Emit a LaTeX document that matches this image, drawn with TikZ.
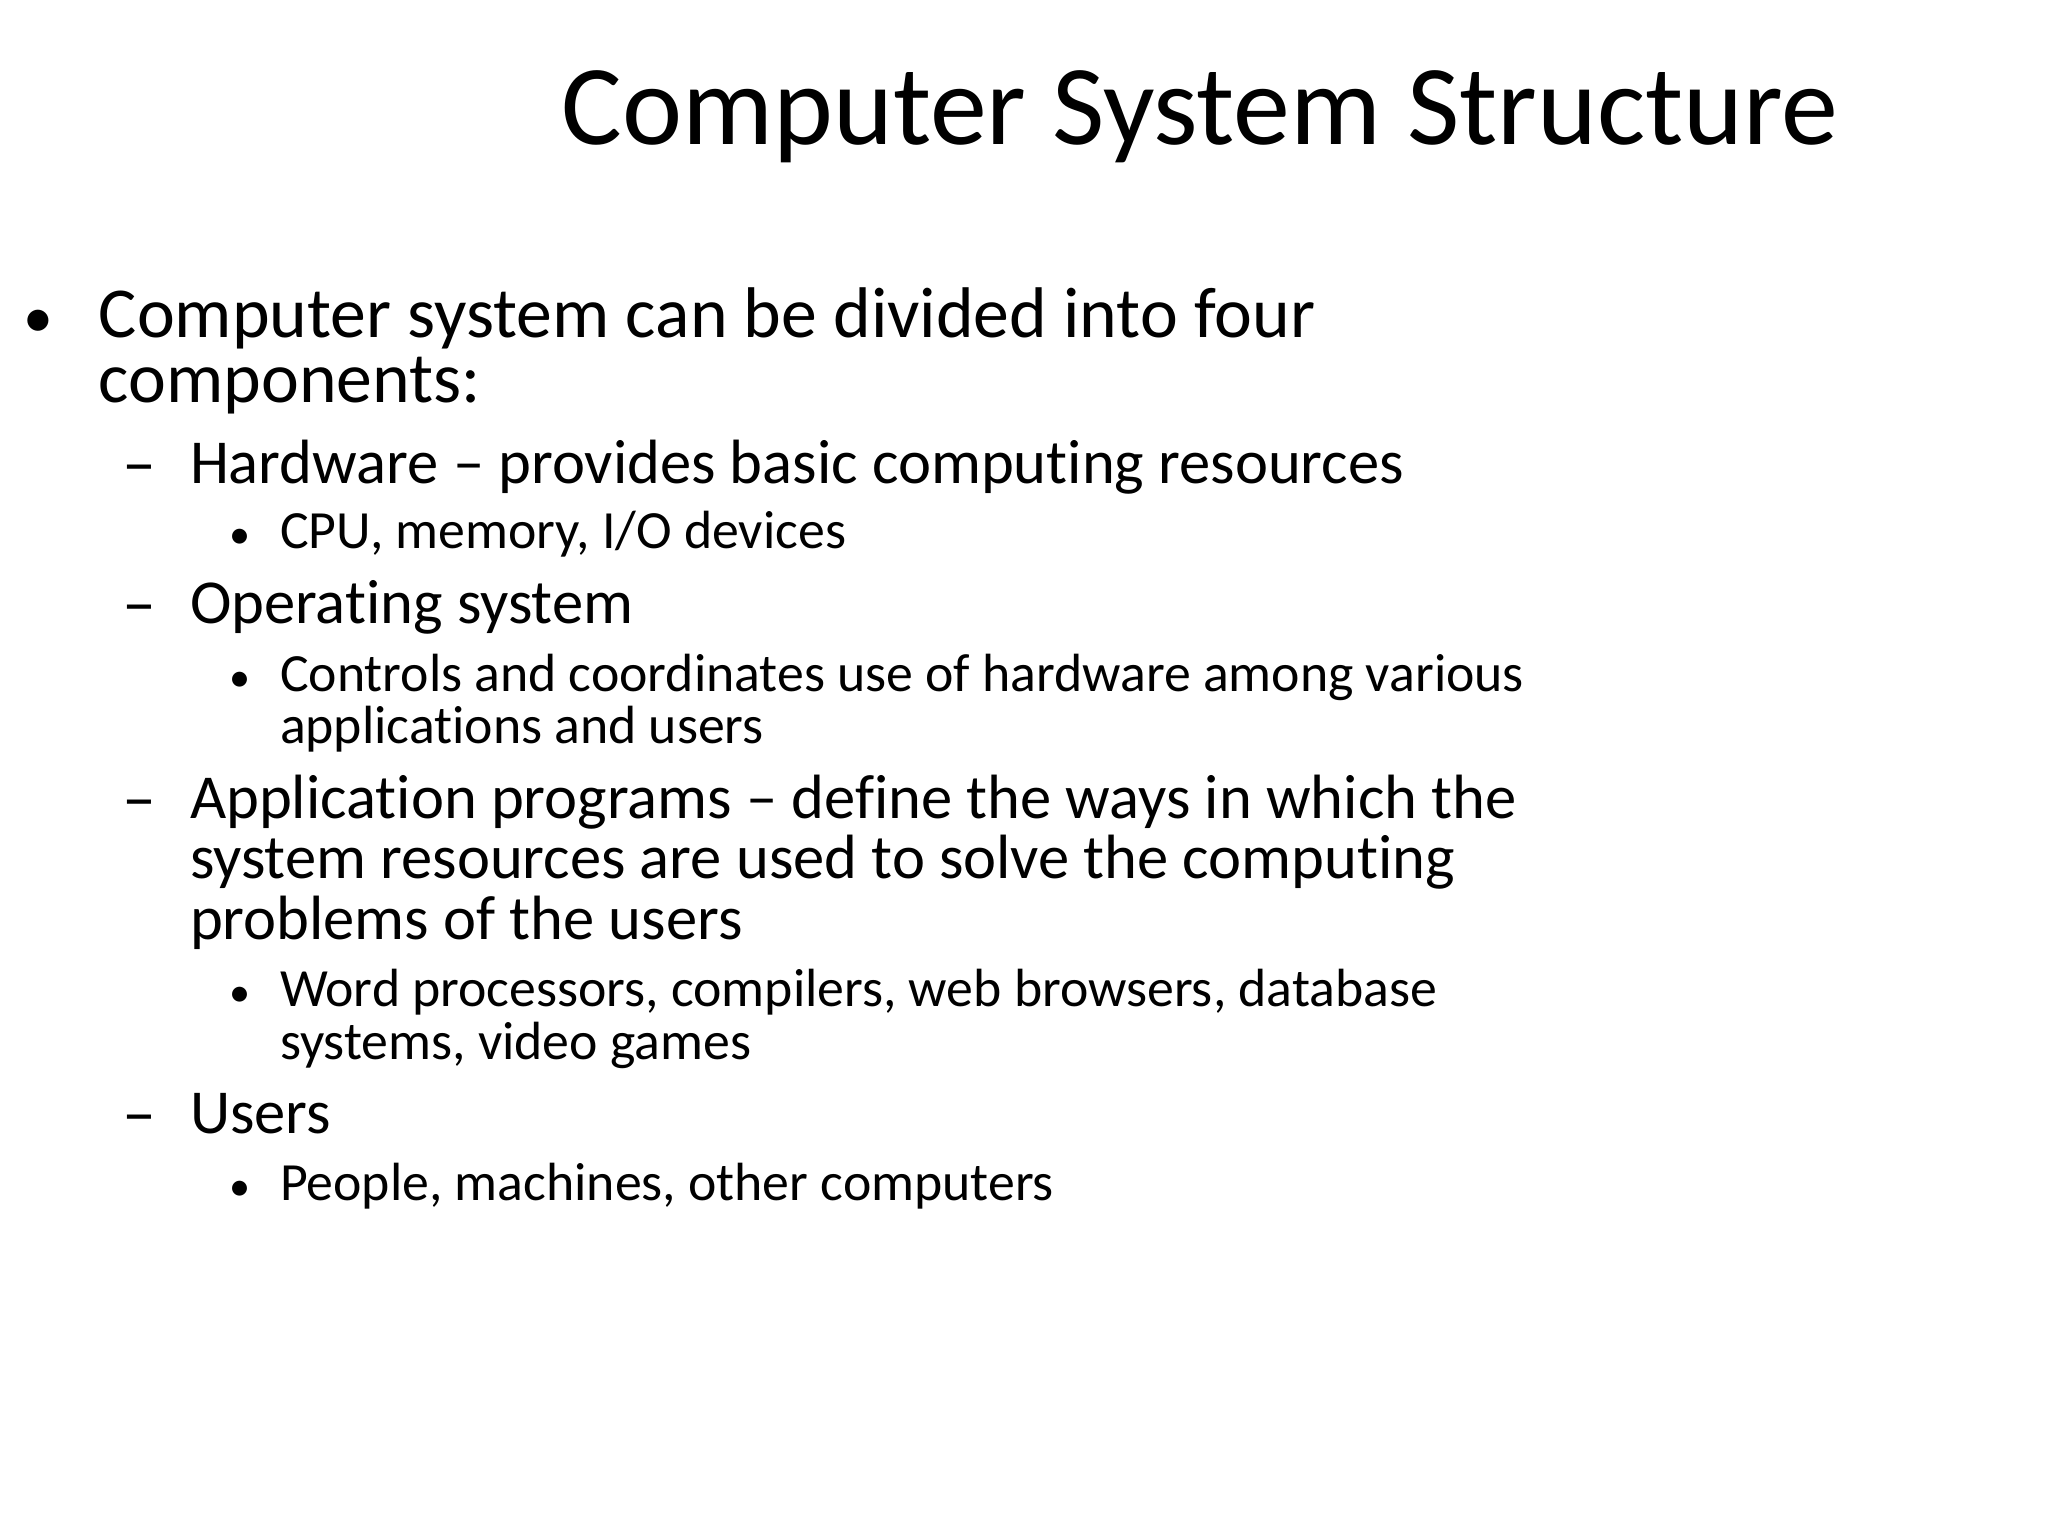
\documentclass[tikz,border=0pt]{standalone}
\usepackage{fontspec}
\setmainfont[Ligatures=NoCommon]{Carlito}
\newfontfamily\dashfont{DejaVu Sans}
\begin{document}
\begin{tikzpicture}[
  t/.style={anchor=base west,inner sep=0pt,outer sep=0pt},
  lone/.style={t,font=\fontsize{20.4}{24}\selectfont},
  ltwo/.style={t,font=\fontsize{17.8}{21}\selectfont},
  lthree/.style={t,font=\fontsize{15.3}{18}\selectfont},
  bone/.style={t,font=\fontsize{17}{20}\selectfont},
  bthree/.style={t,font=\fontsize{12}{14}\selectfont},
  dtwo/.style={t,font=\dashfont\fontsize{17}{20}\selectfont}]
\useasboundingbox[fill=white] (0,0) rectangle (20.48,-15.36);
\node[anchor=base,inner sep=0pt,font=\fontsize{32.4}{38}\selectfont] (title) at (12.0,-1.45) {Computer System Structure};
\node[bone] (b1) at (0.24,-3.38) {•};
\node[lone] (l1a) at (0.99,-3.38) {Computer system can be divided into four};
\node[lone] (l1b) at (0.99,-4.03) {components:};
\node[dtwo] (d1) at (1.25,-4.84) {–};
\node[ltwo] (hw) at (1.90,-4.84) {Hardware – provides basic computing resources};
\node[bthree] (b31) at (2.29,-5.49) {•};
\node[lthree] (cpu) at (2.80,-5.49) {CPU, memory, I/O devices};
\node[dtwo] (d2) at (1.25,-6.24) {–};
\node[ltwo] (os) at (1.90,-6.24) {Operating system};
\node[bthree] (b32) at (2.29,-6.92) {•};
\node[lthree] (ctl) at (2.80,-6.92) {Controls and coordinates use of hardware among various};
\node[lthree] (ctl2) at (2.80,-7.43) {applications and users};
\node[dtwo] (d3) at (1.25,-8.18) {–};
\node[ltwo] (ap1) at (1.90,-8.18) {Application programs – define the ways in which the};
\node[ltwo] (ap2) at (1.90,-8.78) {system resources are used to solve the computing};
\node[ltwo] (ap3) at (1.90,-9.39) {problems of the users};
\node[bthree] (b33) at (2.29,-10.06) {•};
\node[lthree] (wp1) at (2.80,-10.06) {Word processors, compilers, web browsers, database};
\node[lthree] (wp2) at (2.80,-10.59) {systems, video games};
\node[dtwo] (d4) at (1.25,-11.33) {–};
\node[ltwo] (us) at (1.90,-11.33) {Users};
\node[bthree] (b34) at (2.29,-12.0) {•};
\node[lthree] (pp) at (2.80,-12.0) {People, machines, other computers};
\end{tikzpicture}
\end{document}
